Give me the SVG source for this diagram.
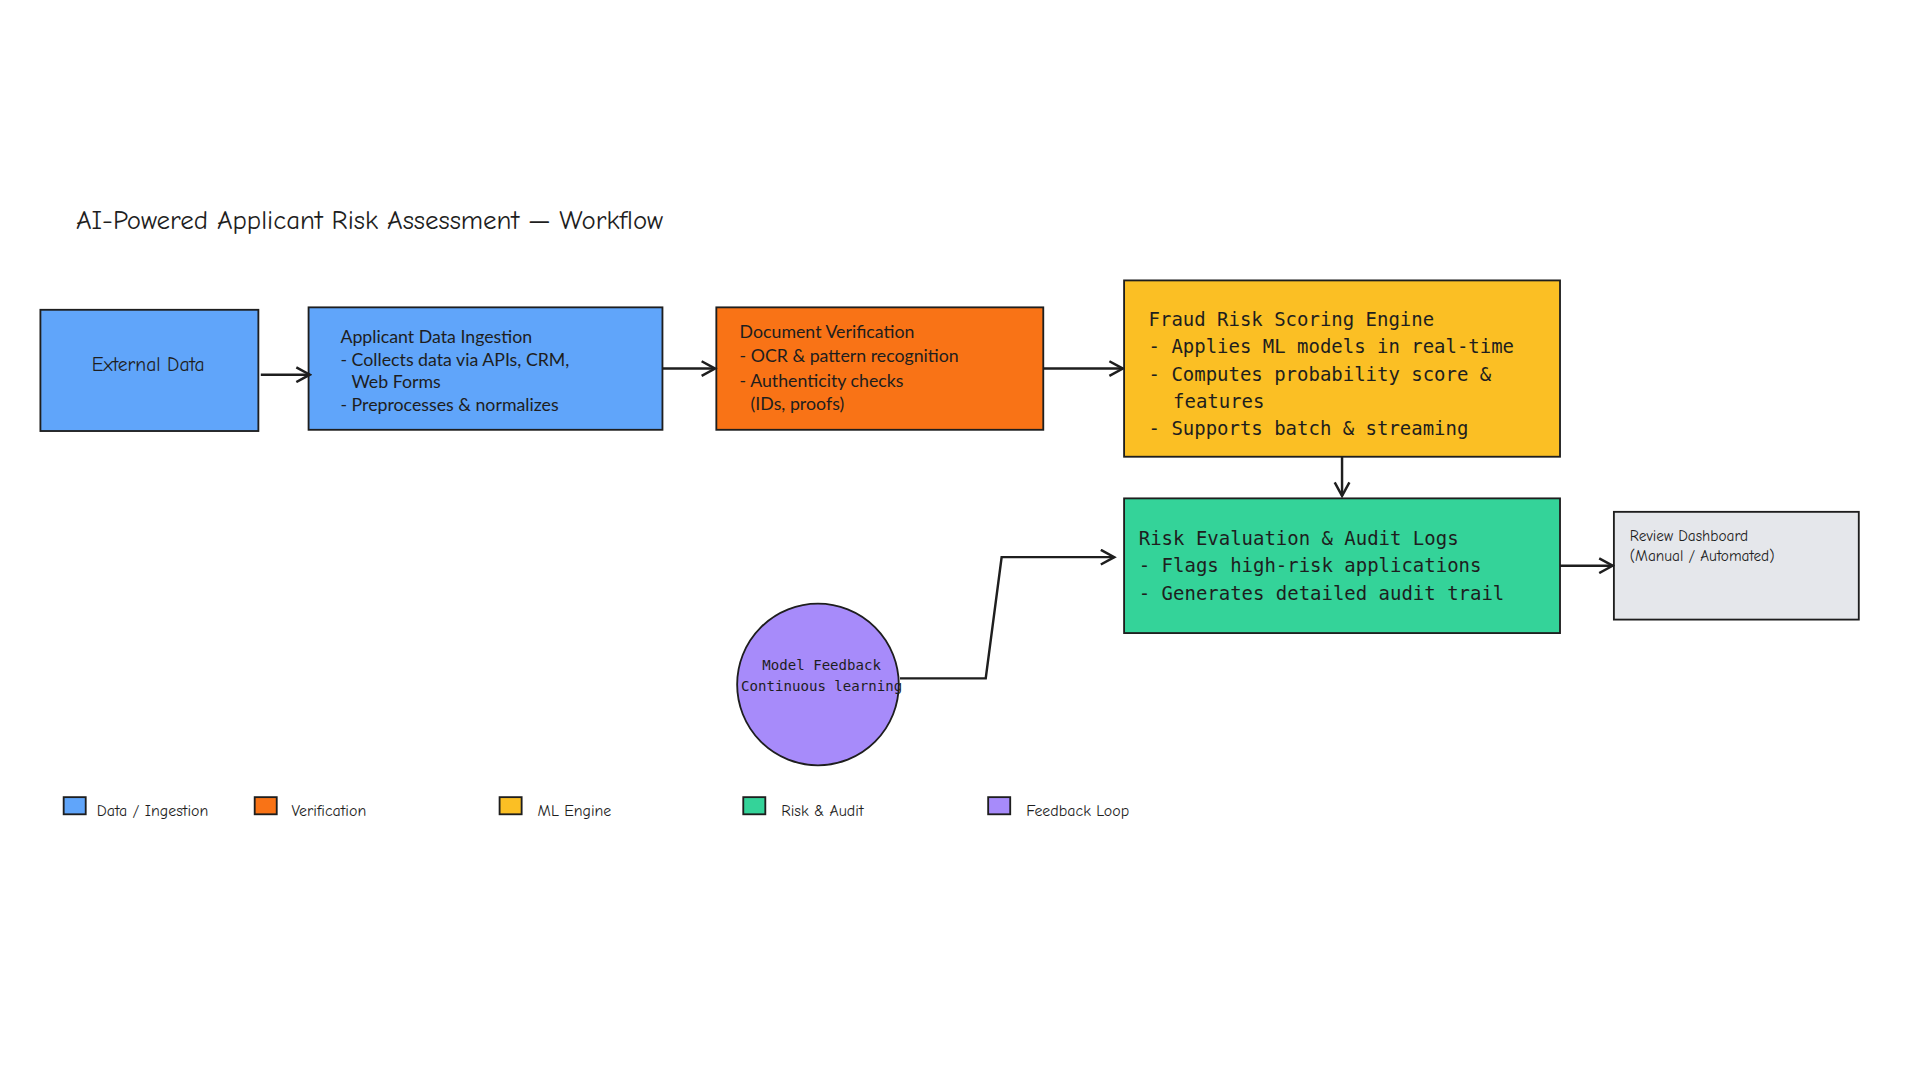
<svg xmlns="http://www.w3.org/2000/svg" width="1920" height="1080" viewBox="0 0 1920 1080">
<style>
.b{stroke:#1e1e1e;stroke-width:1.5}
.hand{font-family:"Comic Neue","DejaVu Sans",sans-serif;fill:#1e1e1e}
.sans{font-family:Lato,"Noto Sans",sans-serif;font-size:14.5px;fill:#1e1e1e}
.mono{font-family:"DejaVu Sans Mono","Liberation Mono",monospace;fill:#1e1e1e}
.c{fill:none;stroke:#1e1e1e;stroke-width:2}
</style>
<defs><marker id="a" markerWidth="14" markerHeight="14" refX="12" refY="7" orient="auto" markerUnits="userSpaceOnUse"><path d="M1,1 L12,7 L1,13" fill="none" stroke="#1e1e1e" stroke-width="2"/></marker></defs>
<rect width="1920" height="1080" fill="#fff"/>
<g transform="scale(1.2245)">
<text class="hand" x="62" y="187" font-size="22">AI-Powered Applicant Risk Assessment — Workflow</text>
<g id="external"><rect class="b" x="33" y="253" width="178" height="99" fill="#60a5fa"/><text class="hand" x="121" y="303" font-size="16" text-anchor="middle">External Data</text></g>
<g id="ingestion"><rect class="b" x="252" y="251" width="289" height="100" fill="#60a5fa"/><text class="sans"><tspan x="278" y="280">Applicant Data Ingestion</tspan><tspan x="278" y="299">- Collects data via APIs, CRM,</tspan><tspan x="287" y="317">Web Forms</tspan><tspan x="278" y="336">- Preprocesses &amp; normalizes</tspan></text></g>
<g id="docver"><rect class="b" x="585" y="251" width="267" height="100" fill="#f97316"/><text class="sans"><tspan x="604" y="276">Document Verification</tspan><tspan x="604" y="296">- OCR &amp; pattern recognition</tspan><tspan x="604" y="316">- Authenticity checks</tspan><tspan x="613" y="335">(IDs, proofs)</tspan></text></g>
<g id="fraud"><rect class="b" x="918" y="229" width="356" height="144" fill="#fbbf24"/><text class="mono" font-size="15.5"><tspan x="938" y="266">Fraud Risk Scoring Engine</tspan><tspan x="938" y="288">- Applies ML models in real-time</tspan><tspan x="938" y="311">- Computes probability score &amp;</tspan><tspan x="958" y="333">features</tspan><tspan x="938" y="355">- Supports batch &amp; streaming</tspan></text></g>
<g id="risk"><rect class="b" x="918" y="407" width="356" height="110" fill="#34d399"/><text class="mono" font-size="15.5"><tspan x="930" y="445">Risk Evaluation &amp; Audit Logs</tspan><tspan x="930" y="467">- Flags high-risk applications</tspan><tspan x="930" y="490">- Generates detailed audit trail</tspan></text></g>
<g id="review"><rect class="b" x="1318" y="418" width="200" height="88" fill="#e5e7eb"/><text class="hand" font-size="12.5"><tspan x="1331" y="442">Review Dashboard</tspan><tspan x="1331" y="458">(Manual / Automated)</tspan></text></g>
<g id="feedback"><circle class="b" cx="668" cy="559" r="66" fill="#a78bfa"/><text class="mono" font-size="11.5" text-anchor="middle"><tspan x="671" y="547">Model Feedback</tspan><tspan x="671" y="564">Continuous learning</tspan></text></g>
<g id="connectors">
<path class="c" d="M213,306 H253" marker-end="url(#a)"/>
<path class="c" d="M541,301 H584" marker-end="url(#a)"/>
<path class="c" d="M852,301 H917" marker-end="url(#a)"/>
<path class="c" d="M1096,373 V405" marker-end="url(#a)"/>
<path class="c" d="M1274,462 H1317" marker-end="url(#a)"/>
<path class="c" d="M735,554 H805 L818,455 H910" marker-end="url(#a)"/>
</g>
<g id="legend" class="hand" font-size="13">
<rect class="b" x="52" y="651" width="18" height="14" fill="#60a5fa"/><text x="79" y="666">Data / Ingestion</text>
<rect class="b" x="208" y="651" width="18" height="14" fill="#f97316"/><text x="238" y="666">Verification</text>
<rect class="b" x="408" y="651" width="18" height="14" fill="#fbbf24"/><text x="439" y="666">ML Engine</text>
<rect class="b" x="607" y="651" width="18" height="14" fill="#34d399"/><text x="638" y="666">Risk &amp; Audit</text>
<rect class="b" x="807" y="651" width="18" height="14" fill="#a78bfa"/><text x="838" y="666">Feedback Loop</text>
</g>
</g>
</svg>
